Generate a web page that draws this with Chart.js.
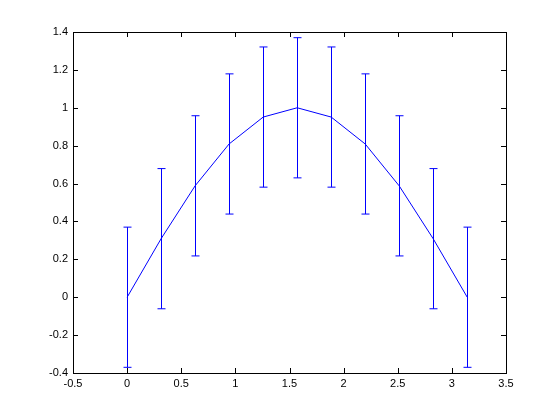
<!DOCTYPE html>
<html>
<head>
<script src="https://cdn.jsdelivr.net/npm/chart.js@4"></script>
<style>body{margin:0;background:#fff}</style>
</head>
<body>
<canvas id="c" width="560" height="420"></canvas>
<script>
const xs = [0, 0.314, 0.628, 0.942, 1.257, 1.571, 1.885, 2.199, 2.513, 2.827, 3.142];
const ys = [0, 0.309, 0.588, 0.809, 0.951, 1, 0.951, 0.809, 0.588, 0.309, 0];
const errs = [0.37, 0.37, 0.37, 0.37, 0.37, 0.37, 0.37, 0.37, 0.37, 0.37, 0.37];
const blue = '#0000ff';

// error bars + matlab style box with inward ticks
const matlabBits = {
  id: 'matlabBits',
  afterDatasetsDraw(chart) {
    const ctx = chart.ctx, x = chart.scales.x, y = chart.scales.y, a = chart.chartArea;
    ctx.save();
    ctx.strokeStyle = blue;
    ctx.lineWidth = 1;
    xs.forEach((v, i) => {
      const px = Math.round(x.getPixelForValue(v)) + 0.5;
      const top = y.getPixelForValue(ys[i] + errs[i]);
      const bot = y.getPixelForValue(ys[i] - errs[i]);
      ctx.beginPath();
      ctx.moveTo(px, top); ctx.lineTo(px, bot);
      ctx.moveTo(px - 4, top); ctx.lineTo(px + 4, top);
      ctx.moveTo(px - 4, bot); ctx.lineTo(px + 4, bot);
      ctx.stroke();
    });
    ctx.strokeStyle = '#000';
    ctx.strokeRect(a.left + 0.5, a.top + 0.5, a.right - a.left, a.bottom - a.top);
    ctx.beginPath();
    x.ticks.forEach(t => {
      const px = Math.round(x.getPixelForValue(t.value)) + 0.5;
      ctx.moveTo(px, a.bottom); ctx.lineTo(px, a.bottom - 5);
      ctx.moveTo(px, a.top); ctx.lineTo(px, a.top + 5);
    });
    y.ticks.forEach(t => {
      const py = Math.round(y.getPixelForValue(t.value)) + 0.5;
      ctx.moveTo(a.left, py); ctx.lineTo(a.left + 5, py);
      ctx.moveTo(a.right, py); ctx.lineTo(a.right - 5, py);
    });
    ctx.stroke();
    ctx.restore();
  }
};

const fmt = v => String(Number(v.toFixed(1)));

new Chart(document.getElementById('c'), {
  type: 'line',
  data: {
    datasets: [{
      data: xs.map((v, i) => ({ x: v, y: ys[i] })),
      borderColor: blue, borderWidth: 1, pointRadius: 0, tension: 0, fill: false
    }]
  },
  options: {
    responsive: false,
    animation: false,
    layout: { padding: { top: 32, right: 54 } },
    plugins: { legend: { display: false }, tooltip: { enabled: false } },
    scales: {
      x: {
        type: 'linear', min: -0.5, max: 3.5,
        afterFit: s => { s.height = 47; },
        grid: { display: false, drawTicks: false }, border: { display: false },
        ticks: { stepSize: 0.5, padding: 4, color: '#000', font: { family: 'Arial, Liberation Sans', size: 11 }, callback: fmt, maxRotation: 0 }
      },
      y: {
        min: -0.4, max: 1.4,
        afterFit: s => { s.width = 73; },
        grid: { display: false, drawTicks: false }, border: { display: false },
        ticks: { stepSize: 0.2, padding: 5, color: '#000', font: { family: 'Arial, Liberation Sans', size: 11 }, callback: fmt }
      }
    }
  },
  plugins: [matlabBits]
});
</script>
</body>
</html>
